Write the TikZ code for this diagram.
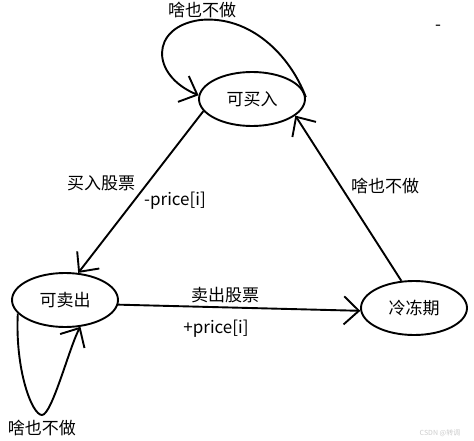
\documentclass[tikz,border=0pt]{standalone}
\usepackage{fontspec}
\setmainfont{Noto Sans CJK SC}
\usetikzlibrary{arrows.meta,shapes.geometric}
\tikzset{
  state/.style={draw, ellipse, line width=1.9pt, minimum width=106pt, minimum height=54pt, inner sep=0pt, font=\fontsize{17}{20}\selectfont},
  arr/.style={line width=1.9pt, -{Straight Barb[length=15pt,width=28pt,line width=1.9pt]}},
  lbl/.style={font=\fontsize{17}{20}\selectfont, inner sep=0pt},
}
\begin{document}
\begin{tikzpicture}[x=1pt,y=-1pt]
\useasboundingbox (0,0) rectangle (474,441);
\node[state] (buy) at (252,99) {可买入};
\node[state] (sell) at (65,300) {可卖出};
\node[state] (cool) at (414,308) {冷冻期};

\draw[arr] (buy.194) -- (sell.64);
\draw[arr] (sell.355) -- (cool.183);
\draw[arr] (cool.115) -- (buy.339);

\draw[arr] (buy.2) .. controls (290,55) and (250,15) .. (200,20)
  .. controls (150,27) and (150,75) .. (buy.176);
\draw[arr] (sell.196) .. controls (15,370) and (32,415) .. (42,415)
  .. controls (52,415) and (70,345) .. (sell.300);

\node[lbl] (t1) at (202,10) {啥也不做};
\node[lbl] (t2) at (101,183) {买入股票};
\node[lbl] (t3) at (175,201) {-price[i]};
\node[lbl] (t4) at (225,295) {卖出股票};
\node[lbl] (t5) at (216,329) {+price[i]};
\node[lbl] (t6) at (385,186) {啥也不做};
\node[lbl] (t7) at (42,428) {啥也不做};
\node[lbl] (t8) at (438,28) {-};
\node[font=\fontsize{7}{8}\selectfont, text=black!20, inner sep=0pt] (wm) at (440,433) {CSDN @转调};
\end{tikzpicture}
\end{document}
